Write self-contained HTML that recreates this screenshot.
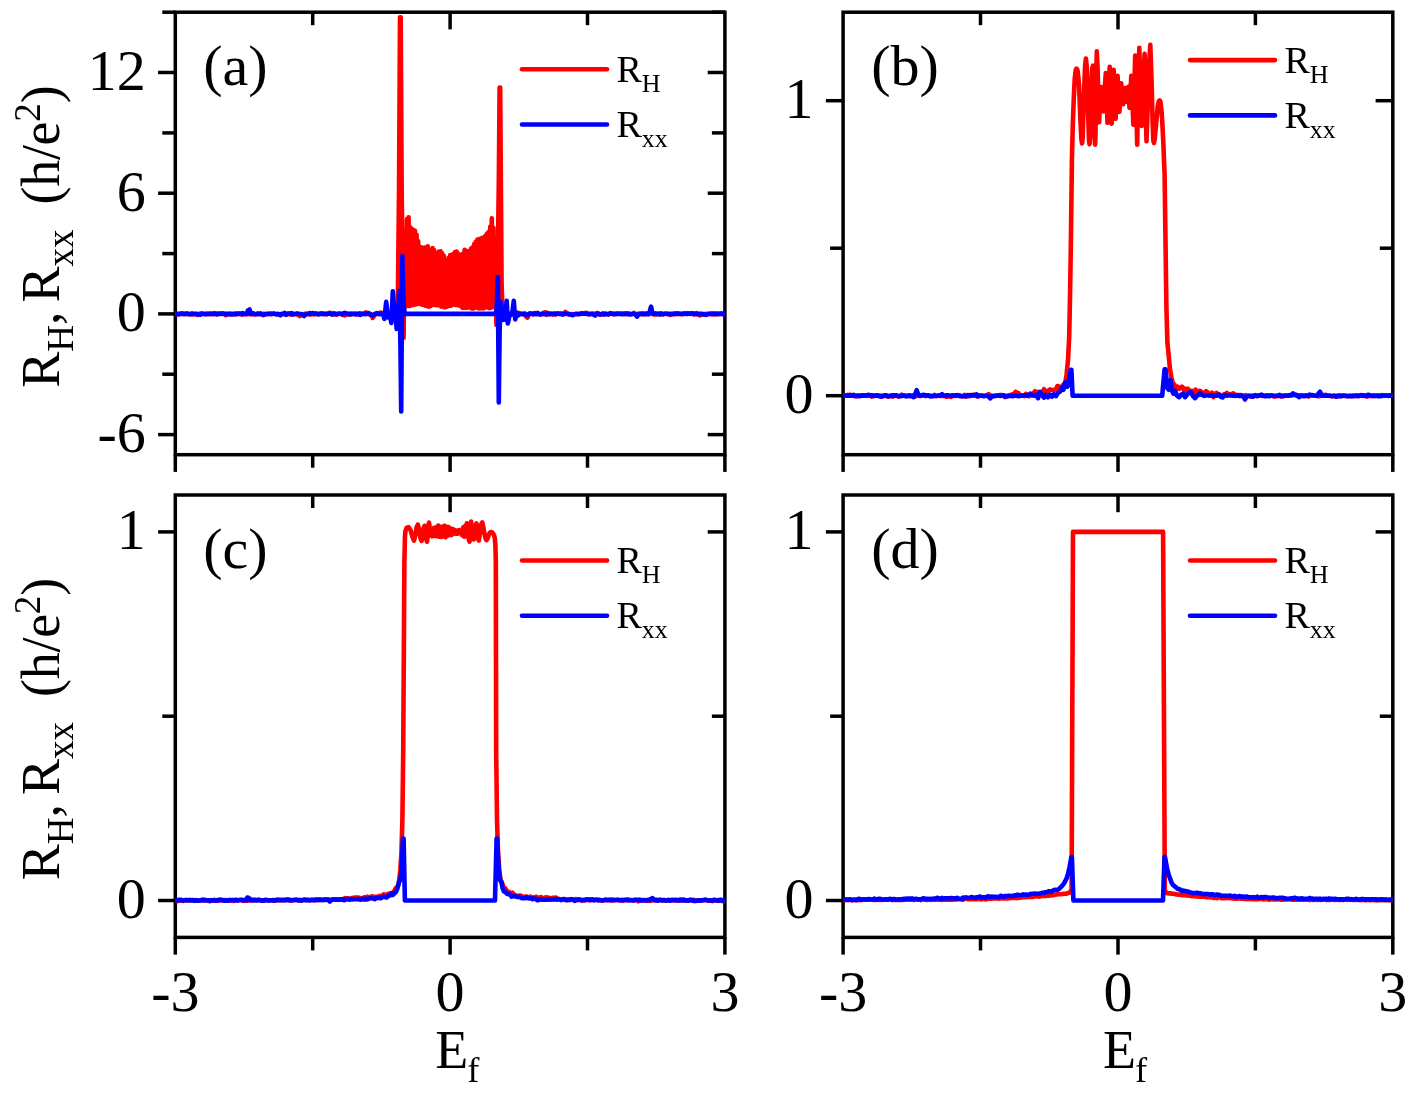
<!DOCTYPE html>
<html lang="en">
<head>
<meta charset="utf-8">
<title>Hall and longitudinal resistance versus Fermi energy</title>
<style>
html,body{margin:0;padding:0;background:#fff;}
body{width:1425px;height:1094px;overflow:hidden;}
svg{display:block;}
svg text{font-family:"Liberation Serif","Times New Roman",Times,serif;fill:#000;}
</style>
</head>
<body>
<svg width="1425" height="1094" viewBox="0 0 1425 1094">
<rect width="1425" height="1094" fill="#fff"/>
<defs><clipPath id="cpa"><rect x="175.3" y="12.2" width="549.6" height="442.5"/></clipPath><clipPath id="cpb"><rect x="843.1" y="12.2" width="549.7" height="442.5"/></clipPath><clipPath id="cpc"><rect x="175.3" y="495" width="549.6" height="442.4"/></clipPath><clipPath id="cpd"><rect x="843.1" y="495" width="549.7" height="442.4"/></clipPath></defs>
<rect x="175.3" y="12.2" width="549.6" height="442.5" fill="none" stroke="#000" stroke-width="3.5"/>
<path d="M175.3,454.7L175.3,471.9" stroke="#000" stroke-width="3.5" fill="none"/>
<path d="M450.1,454.7L450.1,471.9" stroke="#000" stroke-width="3.5" fill="none"/>
<path d="M450.1,12.2L450.1,29.4" stroke="#000" stroke-width="3.5" fill="none"/>
<path d="M724.9,454.7L724.9,471.9" stroke="#000" stroke-width="3.5" fill="none"/>
<path d="M312.7,454.7L312.7,467.7" stroke="#000" stroke-width="3.5" fill="none"/>
<path d="M312.7,12.2L312.7,25.2" stroke="#000" stroke-width="3.5" fill="none"/>
<path d="M587.5,454.7L587.5,467.7" stroke="#000" stroke-width="3.5" fill="none"/>
<path d="M587.5,12.2L587.5,25.2" stroke="#000" stroke-width="3.5" fill="none"/>
<path d="M158.1,72.5L175.3,72.5" stroke="#000" stroke-width="3.5" fill="none"/>
<path d="M707.7,72.5L724.9,72.5" stroke="#000" stroke-width="3.5" fill="none"/>
<path d="M158.1,193.2L175.3,193.2" stroke="#000" stroke-width="3.5" fill="none"/>
<path d="M707.7,193.2L724.9,193.2" stroke="#000" stroke-width="3.5" fill="none"/>
<path d="M158.1,313.9L175.3,313.9" stroke="#000" stroke-width="3.5" fill="none"/>
<path d="M707.7,313.9L724.9,313.9" stroke="#000" stroke-width="3.5" fill="none"/>
<path d="M158.1,434.6L175.3,434.6" stroke="#000" stroke-width="3.5" fill="none"/>
<path d="M707.7,434.6L724.9,434.6" stroke="#000" stroke-width="3.5" fill="none"/>
<path d="M162.3,12.2L175.3,12.2" stroke="#000" stroke-width="3.5" fill="none"/>
<path d="M711.9,12.2L724.9,12.2" stroke="#000" stroke-width="3.5" fill="none"/>
<path d="M162.3,132.9L175.3,132.9" stroke="#000" stroke-width="3.5" fill="none"/>
<path d="M711.9,132.9L724.9,132.9" stroke="#000" stroke-width="3.5" fill="none"/>
<path d="M162.3,253.6L175.3,253.6" stroke="#000" stroke-width="3.5" fill="none"/>
<path d="M711.9,253.6L724.9,253.6" stroke="#000" stroke-width="3.5" fill="none"/>
<path d="M162.3,374.2L175.3,374.2" stroke="#000" stroke-width="3.5" fill="none"/>
<path d="M711.9,374.2L724.9,374.2" stroke="#000" stroke-width="3.5" fill="none"/>
<text x="145.8" y="89.8" text-anchor="end" font-size="58">12</text>
<text x="145.8" y="210.5" text-anchor="end" font-size="58">6</text>
<text x="145.8" y="331.2" text-anchor="end" font-size="58">0</text>
<text x="145.8" y="451.9" text-anchor="end" font-size="58">-6</text>
<rect x="843.1" y="12.2" width="549.7" height="442.5" fill="none" stroke="#000" stroke-width="3.5"/>
<path d="M843.1,454.7L843.1,471.9" stroke="#000" stroke-width="3.5" fill="none"/>
<path d="M1118,454.7L1118,471.9" stroke="#000" stroke-width="3.5" fill="none"/>
<path d="M1118,12.2L1118,29.4" stroke="#000" stroke-width="3.5" fill="none"/>
<path d="M1392.8,454.7L1392.8,471.9" stroke="#000" stroke-width="3.5" fill="none"/>
<path d="M980.5,454.7L980.5,467.7" stroke="#000" stroke-width="3.5" fill="none"/>
<path d="M980.5,12.2L980.5,25.2" stroke="#000" stroke-width="3.5" fill="none"/>
<path d="M1255.4,454.7L1255.4,467.7" stroke="#000" stroke-width="3.5" fill="none"/>
<path d="M1255.4,12.2L1255.4,25.2" stroke="#000" stroke-width="3.5" fill="none"/>
<path d="M825.9,100.7L843.1,100.7" stroke="#000" stroke-width="3.5" fill="none"/>
<path d="M1375.6,100.7L1392.8,100.7" stroke="#000" stroke-width="3.5" fill="none"/>
<path d="M825.9,395.7L843.1,395.7" stroke="#000" stroke-width="3.5" fill="none"/>
<path d="M1375.6,395.7L1392.8,395.7" stroke="#000" stroke-width="3.5" fill="none"/>
<path d="M830.1,248.2L843.1,248.2" stroke="#000" stroke-width="3.5" fill="none"/>
<path d="M1379.8,248.2L1392.8,248.2" stroke="#000" stroke-width="3.5" fill="none"/>
<text x="813.6" y="118" text-anchor="end" font-size="58">1</text>
<text x="813.6" y="413" text-anchor="end" font-size="58">0</text>
<rect x="175.3" y="495" width="549.6" height="442.4" fill="none" stroke="#000" stroke-width="3.5"/>
<path d="M175.3,937.4L175.3,954.6" stroke="#000" stroke-width="3.5" fill="none"/>
<path d="M450.1,937.4L450.1,954.6" stroke="#000" stroke-width="3.5" fill="none"/>
<path d="M450.1,495L450.1,512.2" stroke="#000" stroke-width="3.5" fill="none"/>
<path d="M724.9,937.4L724.9,954.6" stroke="#000" stroke-width="3.5" fill="none"/>
<path d="M312.7,937.4L312.7,950.4" stroke="#000" stroke-width="3.5" fill="none"/>
<path d="M312.7,495L312.7,508" stroke="#000" stroke-width="3.5" fill="none"/>
<path d="M587.5,937.4L587.5,950.4" stroke="#000" stroke-width="3.5" fill="none"/>
<path d="M587.5,495L587.5,508" stroke="#000" stroke-width="3.5" fill="none"/>
<path d="M158.1,531.9L175.3,531.9" stroke="#000" stroke-width="3.5" fill="none"/>
<path d="M707.7,531.9L724.9,531.9" stroke="#000" stroke-width="3.5" fill="none"/>
<path d="M158.1,900.5L175.3,900.5" stroke="#000" stroke-width="3.5" fill="none"/>
<path d="M707.7,900.5L724.9,900.5" stroke="#000" stroke-width="3.5" fill="none"/>
<path d="M162.3,716.2L175.3,716.2" stroke="#000" stroke-width="3.5" fill="none"/>
<path d="M711.9,716.2L724.9,716.2" stroke="#000" stroke-width="3.5" fill="none"/>
<text x="145.8" y="549.2" text-anchor="end" font-size="58">1</text>
<text x="145.8" y="917.8" text-anchor="end" font-size="58">0</text>
<rect x="843.1" y="495" width="549.7" height="442.4" fill="none" stroke="#000" stroke-width="3.5"/>
<path d="M843.1,937.4L843.1,954.6" stroke="#000" stroke-width="3.5" fill="none"/>
<path d="M1118,937.4L1118,954.6" stroke="#000" stroke-width="3.5" fill="none"/>
<path d="M1118,495L1118,512.2" stroke="#000" stroke-width="3.5" fill="none"/>
<path d="M1392.8,937.4L1392.8,954.6" stroke="#000" stroke-width="3.5" fill="none"/>
<path d="M980.5,937.4L980.5,950.4" stroke="#000" stroke-width="3.5" fill="none"/>
<path d="M980.5,495L980.5,508" stroke="#000" stroke-width="3.5" fill="none"/>
<path d="M1255.4,937.4L1255.4,950.4" stroke="#000" stroke-width="3.5" fill="none"/>
<path d="M1255.4,495L1255.4,508" stroke="#000" stroke-width="3.5" fill="none"/>
<path d="M825.9,531.9L843.1,531.9" stroke="#000" stroke-width="3.5" fill="none"/>
<path d="M1375.6,531.9L1392.8,531.9" stroke="#000" stroke-width="3.5" fill="none"/>
<path d="M825.9,900.5L843.1,900.5" stroke="#000" stroke-width="3.5" fill="none"/>
<path d="M1375.6,900.5L1392.8,900.5" stroke="#000" stroke-width="3.5" fill="none"/>
<path d="M830.1,716.2L843.1,716.2" stroke="#000" stroke-width="3.5" fill="none"/>
<path d="M1379.8,716.2L1392.8,716.2" stroke="#000" stroke-width="3.5" fill="none"/>
<text x="813.6" y="549.2" text-anchor="end" font-size="58">1</text>
<text x="813.6" y="917.8" text-anchor="end" font-size="58">0</text>
<path d="M175.3,313.4 176.7,314.1 178.1,314.3 179.5,313.7 180.9,313.4 182.3,313.9 183.7,314.1 185.1,314.3 186.5,313.4 187.9,313.4 189.3,314.2 190.7,314.1 192.1,314.5 193.5,314.3 194.9,313.9 196.3,313.8 197.7,314.9 199.1,313.8 200.5,313.6 201.9,313.4 203.3,313.9 204.7,314 206.1,313.8 207.5,313.9 208.9,314 210.3,314.2 211.7,314.3 213.1,314 214.5,313.2 215.9,314.2 217.3,313.3 218.7,313.8 220.1,313.3 221.5,313.9 222.9,313.6 224.3,314 225.7,315.2 227.1,313.9 228.5,314.2 229.9,313.4 231.3,313.8 232.7,314.2 234.1,313.9 235.5,314.1 236.9,313.9 238.3,313.5 239.7,314.1 241.1,313.6 242.5,314.7 243.9,313.7 245.3,314.2 246.7,313.9 248.1,314.3 249.5,313.7 250.9,314.3 252.3,313.9 253.7,314.4 255.1,314.2 256.5,314 257.9,313.6 259.3,314.2 260.7,314.1 262.1,314.6 263.5,313.8 264.9,314.1 266.3,314.1 267.7,314 269.1,314 270.5,314 271.9,313.7 273.3,313.5 274.7,313.7 276.1,314.1 277.5,314.5 278.9,314.3 280.3,314.3 281.7,314.2 283.1,314.2 284.5,314 285.9,314.2 287.3,314.6 288.7,313.8 290.1,313.6 291.5,314.7 292.9,314 294.3,314.3 295.7,314.3 297.1,313.5 298.5,315.3 299.9,316.1 301.3,314.5 302.7,314.2 304.1,314 305.5,313.6 306.9,313.9 308.3,314.1 309.7,314.4 311.1,314.2 312.5,313.9 313.9,314.4 315.3,313.6 316.7,314.2 318.1,314.3 319.5,313.8 320.9,313.2 322.3,313.5 323.7,314 325.1,314.1 326.5,314.5 327.9,313.5 329.3,312.9 330.7,313.1 332.1,313.8 333.5,313 334.9,314.2 336.3,314.8 337.7,314.3 339.1,313.5 340.5,313.7 341.9,314 343.3,315.1 344.7,315.4 346.1,314.6 347.5,314.5 348.9,313.9 350.3,314.6 351.7,313.6 353.1,313.7 354.5,314.2 355.9,314.5 357.3,314.2 358.7,314 360.1,313.2 361.5,313.6 362.9,313.7 364.3,313.4 365.7,312.4 367.1,312.9 368.5,314.2 369.9,313.9 371.3,314.4 372.7,317.8 374.1,316.1 375.5,314.2 376.9,313.7 378.3,313.8 379.7,312.7 381.1,312.6 382.5,314 383.9,313.8 385.3,313.7 386.7,313.7 388.1,315.8 389.5,314 390.9,314.8 392.3,312.4 393.7,312 395.1,312.9 396.5,314.5 396.5,313.9 397.8,303.8 399,193.2 400,17.2 400.7,17.2 401.7,193.2 403,293.8 403.6,338 404.4,273.7 405.4,231.3 406.2,306.2 407,219 407.8,305.6 408.6,217.3 409.4,306.1 410.2,227.2 411,305.3 411.8,228.9 412.6,305.3 413.4,229.8 414.2,304.6 415,230.8 415.8,304.5 416.6,234.9 417.4,303.8 418.2,241.4 419,303.6 419.8,247.1 420.6,303.9 421.4,247.3 422.2,304.8 423,248 423.8,305 424.6,247.6 425.4,305.6 426.2,248.6 427,305.8 427.8,246.3 428.6,306.8 429.4,250.7 430.2,306.1 431,250.6 431.8,305.3 432.6,248 433.4,305 434.2,250.3 435,304.8 435.8,254.7 436.6,305.3 437.4,253.5 438.2,305.3 439,251.6 439.8,305.1 440.6,251.4 441.4,306.8 442.2,253.3 443,306.2 443.8,255.9 444.6,307.4 445.4,262.1 446.2,306.9 447,260.8 447.8,306.1 448.6,257.7 449.4,305.9 450.2,255.1 451,305.7 451.8,255.2 452.6,304.4 453.4,253.9 454.2,304.7 455,252 455.8,304.9 456.6,251.5 457.4,305.3 458.2,253.8 459,305.4 459.8,254.5 460.6,306 461.4,255.2 462.2,307.8 463,253.7 463.8,307.7 464.6,249.8 465.4,307.6 466.2,250.9 467,307.6 467.8,251.2 468.6,307.2 469.4,252 470.2,307.8 471,248.5 471.8,308.5 472.6,247.2 473.4,308.4 474.2,244 475,307.6 475.8,241.7 476.6,307.3 477.4,239.6 478.2,308.3 479,239.1 479.8,308.5 480.6,238.7 481.4,308.1 482.2,237.8 483,308.4 483.8,238.7 484.6,307.8 485.4,235.9 486.2,307.5 487,233.5 487.8,307.1 488.6,232.1 489.4,308.2 490.2,226.7 491,307.8 491.8,218.4 492.6,306.7 493.4,227.8 494.2,306.5 495,249.4 496.4,325 497.4,293.8 498.9,173.1 499.6,87.6 500.2,87.6 500.8,173.1 501.6,283.7 502.4,309.9 503.4,315.9 504.5,311.9 505.5,313.9 506.5,314 507.9,313.6 509.3,314.4 510.7,313.4 512.1,313.8 513.5,313.9 514.9,313.5 516.3,314.1 517.7,312.5 519.1,313.3 520.5,314 521.9,313.9 523.3,313.7 524.7,313.4 526.1,316.5 527.5,317.6 528.9,313.9 530.3,313.2 531.7,313.6 533.1,314.2 534.5,313 535.9,313.3 537.3,314 538.7,314.1 540.1,314.5 541.5,314.1 542.9,313.4 544.3,312.5 545.7,312.3 547.1,314.8 548.5,313.2 549.9,314.4 551.3,313.8 552.7,314 554.1,313.6 555.5,314.6 556.9,313.5 558.3,313.8 559.7,314 561.1,313.4 562.5,314.1 563.9,313.6 565.3,312 566.7,313.2 568.1,313.7 569.5,314.6 570.9,314.2 572.3,314.1 573.7,314.2 575.1,314 576.5,313.7 577.9,314.2 579.3,314.3 580.7,313.8 582.1,313.1 583.5,313.5 584.9,313 586.3,312.9 587.7,314 589.1,314.1 590.5,314.1 591.9,313.6 593.3,313.8 594.7,313.8 596.1,313.3 597.5,313.1 598.9,314.5 600.3,314.9 601.7,314 603.1,313.3 604.5,314.4 605.9,314.1 607.3,313.7 608.7,314.5 610.1,313.1 611.5,313.4 612.9,313.8 614.3,314.1 615.7,314.4 617.1,313.4 618.5,313.5 619.9,313.5 621.3,313.6 622.7,313.5 624.1,313.9 625.5,314.1 626.9,313.4 628.3,313.3 629.7,313.9 631.1,314.4 632.5,314.1 633.9,313 635.3,314.4 636.7,314.2 638.1,313.8 639.5,313.7 640.9,313.9 642.3,313.2 643.7,314.2 645.1,314.3 646.5,313.6 647.9,313.8 649.3,314.1 650.7,313.2 652.1,313.3 653.5,314.4 654.9,314.4 656.3,314.2 657.7,313.9 659.1,314 660.5,314.5 661.9,313.7 663.3,314.2 664.7,313.8 666.1,313.8 667.5,313.9 668.9,314.4 670.3,314.9 671.7,314.1 673.1,314.1 674.5,314.4 675.9,313.5 677.3,314.1 678.7,313.5 680.1,314.2 681.5,314 682.9,314.1 684.3,313.5 685.7,313.5 687.1,313.1 688.5,313.8 689.9,313.3 691.3,313.4 692.7,314 694.1,314.6 695.5,314.2 696.9,313.1 698.3,314 699.7,315.4 701.1,314.8 702.5,313.8 703.9,314.7 705.3,313.9 706.7,314.1 708.1,314.1 709.5,313.9 710.9,313.6 712.3,314.5 713.7,314.3 715.1,313.3 716.5,314.2 717.9,314.2 719.3,314.2 720.7,313.9 722.1,313.8 723.5,314.1 724.9,314.5 724.9,313.9" fill="none" stroke="#ff0000" stroke-width="4.6" stroke-linejoin="round" stroke-linecap="round" clip-path="url(#cpa)"/>
<path d="M175.3,314.6 176.7,313.5 178.1,314.2 179.5,314.1 180.9,313.9 182.3,313.6 183.7,313.8 185.1,313.7 186.5,314 187.9,314 189.3,314.3 190.7,314 192.1,313.5 193.5,313.9 194.9,314 196.3,314.1 197.7,314.1 199.1,314.5 200.5,314.6 201.9,313.9 203.3,314 204.7,314 206.1,314.2 207.5,313.8 208.9,313.9 210.3,313.6 211.7,313.6 213.1,314 214.5,313.5 215.9,314.1 217.3,314.4 218.7,313.9 220.1,314 221.5,313.7 222.9,313.4 224.3,314 225.7,313.7 227.1,314 228.5,314.1 229.9,314.2 231.3,314.5 232.7,314 234.1,314.1 235.5,313.5 236.9,314.2 238.3,313.6 239.7,313.6 241.1,314.1 242.5,313.1 243.9,313.9 245.3,314 246.7,313.7 248.1,310.2 249.5,309.5 250.9,314 252.3,313.4 253.7,313.4 255.1,314.3 256.5,314.2 257.9,313.6 259.3,314 260.7,313.4 262.1,314.2 263.5,315.1 264.9,314.2 266.3,314 267.7,313.9 269.1,313.9 270.5,313.6 271.9,314.2 273.3,313.7 274.7,313.8 276.1,314.3 277.5,313.8 278.9,314.2 280.3,315.3 281.7,313.7 283.1,313.7 284.5,312.9 285.9,314.7 287.3,313.6 288.7,313.5 290.1,314 291.5,313.1 292.9,314.3 294.3,314 295.7,313.9 297.1,313.7 298.5,313.8 299.9,314 301.3,314 302.7,314.9 304.1,316 305.5,314.5 306.9,314.2 308.3,313.7 309.7,313.1 311.1,313.9 312.5,313 313.9,313.5 315.3,313.6 316.7,313.5 318.1,314.3 319.5,314.1 320.9,313.9 322.3,313.8 323.7,314.1 325.1,313.8 326.5,313.7 327.9,313.9 329.3,313.5 330.7,313.9 332.1,314.6 333.5,314.2 334.9,313.6 336.3,314.1 337.7,313.7 339.1,313.7 340.5,313.8 341.9,314.3 343.3,313.5 344.7,312.8 346.1,313.3 347.5,313.7 348.9,314.1 350.3,313.9 351.7,314.1 353.1,314 354.5,313.9 355.9,313.6 357.3,314.3 358.7,313.6 360.1,314.8 361.5,314.2 362.9,314 364.3,313.9 365.7,314.2 367.1,313.7 368.5,313.1 369.9,314 371.3,315.3 372.7,315.6 374.1,314.3 375.5,313.7 376.9,313.1 378.3,314.1 379.7,314.1 381.1,313.5 382.5,314.2 383,313.9 384.4,318.9 386.2,301.9 388,317.4 389.6,314.9 391.4,322.9 392.8,291.4 394.4,311.9 395.4,307.9 396.6,328.9 398,312.9 399.3,290.9 400.4,343.9 401.2,411.5 402.3,256 403.6,303.9 404.6,313.9 496,313.9 496.8,305.9 497.8,277.1 498.8,402.4 499.6,333.9 500.4,301.9 501.6,306.9 502.6,309.9 503.6,319.9 505,315.9 506.7,300.9 507.8,323.4 509.4,315.9 511,314.9 512.4,311.9 513.8,300.9 515.2,319.4 516.6,312.9 518,315.4 519.5,314.2 520.9,313.7 522.3,314 523.7,314.3 525.1,314.1 526.5,315.3 527.9,315 529.3,313.7 530.7,313.6 532.1,313.9 533.5,314.3 534.9,313.4 536.3,314.2 537.7,312.9 539.1,313.7 540.5,314.4 541.9,313.8 543.3,313.9 544.7,314.1 546.1,314.3 547.5,313.6 548.9,313.7 550.3,313.7 551.7,313.8 553.1,314.4 554.5,313.5 555.9,313.7 557.3,313.6 558.7,313.5 560.1,314 561.5,314.1 562.9,314.6 564.3,313.8 565.7,314 567.1,313.8 568.5,314.1 569.9,314 571.3,314.7 572.7,315.3 574.1,314.2 575.5,314.1 576.9,314 578.3,314 579.7,313.7 581.1,313.6 582.5,313.7 583.9,313.7 585.3,313.7 586.7,313.9 588.1,313.6 589.5,314.3 590.9,314 592.3,313.8 593.7,314.8 595.1,315.6 596.5,313.9 597.9,313.5 599.3,314 600.7,314.2 602.1,313.9 603.5,314.5 604.9,313.6 606.3,314.2 607.7,314.2 609.1,313.9 610.5,313.4 611.9,313.8 613.3,314.2 614.7,313.8 616.1,313.8 617.5,314 618.9,314 620.3,313.8 621.7,314.2 623.1,314.1 624.5,313.5 625.9,313.9 627.3,313.7 628.7,314.4 630.1,314.1 631.5,314 632.9,313.8 634.3,313.8 635.7,314.6 637.1,316.6 638.5,314.4 639.9,313.7 641.3,314.1 642.7,314.1 644.1,313.9 645.5,313.6 646.9,314.3 648.3,314.2 649.7,311.5 651.1,306.6 652.5,313.6 653.9,313.7 655.3,313.4 656.7,314.1 658.1,313.8 659.5,314.2 660.9,313.3 662.3,314.3 663.7,314.1 665.1,313.8 666.5,313.7 667.9,314.1 669.3,313.7 670.7,314.1 672.1,313.8 673.5,314 674.9,313.4 676.3,313.7 677.7,313.4 679.1,313.8 680.5,313.7 681.9,313.8 683.3,313.9 684.7,313.3 686.1,313.9 687.5,314 688.9,313.5 690.3,313.9 691.7,313.2 693.1,313.6 694.5,313.6 695.9,313.5 697.3,314.3 698.7,314.1 700.1,313.9 701.5,313.8 702.9,314.3 704.3,314.3 705.7,315 707.1,314.4 708.5,313.8 709.9,313.8 711.3,313.9 712.7,313.5 714.1,313.9 715.5,314.1 716.9,313.9 718.3,313.5 719.7,313.9 721.1,313.6 722.5,313.5 723.9,314.6 724.9,313.9" fill="none" stroke="#0000ff" stroke-width="4.6" stroke-linejoin="round" stroke-linecap="round" clip-path="url(#cpa)"/>
<path d="M843.1,395.2 844.6,395.1 846.1,395.8 847.6,394.8 849.1,395.4 850.6,394.7 852.1,395.8 853.6,395.8 855.1,396.3 856.6,395.7 858.1,395.9 859.6,395.6 861.1,395.4 862.6,395.7 864.1,395.2 865.6,395.4 867.1,395.9 868.6,395.8 870.1,395.6 871.6,396.6 873.1,396 874.6,395.5 876.1,395.7 877.6,395.5 879.1,395.5 880.6,395.5 882.1,396.5 883.6,395.9 885.1,395.8 886.6,396 888.1,396.6 889.6,395.9 891.1,395.5 892.6,396.7 894.1,395.4 895.6,395.4 897.1,395.9 898.6,396.7 900.1,395.6 901.6,394.7 903.1,395.7 904.6,395.5 906.1,395.5 907.6,395.8 909.1,395.8 910.6,395.9 912.1,395.6 913.6,396.2 915.1,396.5 916.6,395.9 918.1,395.6 919.6,396 921.1,396 922.6,395.3 924.1,395.4 925.6,396.1 927.1,395.8 928.6,395.6 930.1,395.8 931.6,395.7 933.1,395.7 934.6,394.9 936.1,396.2 937.6,395.9 939.1,395.4 940.6,396 942.1,395.9 943.6,395.8 945.1,396.2 946.6,396.8 948.1,396.3 949.6,396.5 951.1,396.9 952.6,395.6 954.1,395.5 955.6,396 957.1,395.1 958.6,395.4 960.1,396.2 961.6,396.3 963.1,396.1 964.6,395 966.1,396.5 967.6,396.2 969.1,396.2 970.6,396 972.1,395.1 973.6,394.9 975.1,395 976.6,396.3 978.1,395.5 979.6,395.5 981.1,395.5 982.6,395.9 984.1,396 985.6,395.9 987.1,395.2 988.6,394.2 990.1,395.3 991.6,395.7 993.1,396.2 994.6,395.8 996.1,395.5 997.6,395.8 999.1,395.1 1000.6,395.1 1002.1,395.1 1003.6,395.6 1005,395.7 1005,397.3 1006.5,395.7 1008,396.2 1009.5,395.1 1011,395.1 1012.5,394.2 1014,394.4 1015.5,391.8 1017,393.2 1018.5,393.1 1020,395.5 1021.5,395.3 1023,395.7 1024.5,396.1 1026,393.8 1027.5,395.3 1029,396.2 1030.5,393.7 1032,394.9 1033.5,393.2 1035,391.3 1036.5,393.2 1038,391.8 1039.5,392.7 1041,391.7 1042.5,392.4 1044,389.2 1045.5,393.9 1047,392.7 1048.5,390.3 1050,389.3 1051.5,390 1053,390.4 1054.5,389.7 1056,389.3 1057.5,386 1059,386.5 1060.5,389 1062,387.1 1063.5,384.5 1065,384.7 1066.5,375.1 1068,360.3 1069.2,336.7 1070,298.3 1070.8,248.2 1071.9,160.4 1072.8,124.7 1073.7,100.4 1074.7,78.7 1075.8,69.8 1076.6,68.6 1077.6,70.4 1079,84.7 1080.4,119.8 1081.4,139.2 1082,143.5 1082.6,139.2 1083.8,100.4 1085,66.8 1085.9,58.5 1086.9,68 1088.2,114.9 1089,140.5 1089.5,144.1 1089.9,139.2 1091.1,90.7 1092.3,68 1093,65.7 1093.7,76.3 1094.6,136.8 1095.1,144.7 1095.5,134.4 1096.2,76.3 1096.8,51.4 1097.6,68 1098.7,117.4 1099.2,122.2 1099.9,102.8 1101,87 1102.2,105.2 1103.4,111.3 1104.6,90.7 1105.8,73 1106.7,100.4 1107.5,122.8 1108.6,90.7 1109.7,66.8 1110.7,100.4 1111.7,123.7 1112.8,93.1 1113.7,69.8 1114.7,100.4 1115.6,118.8 1116.7,93.1 1117.6,75.8 1118.6,97.9 1119.4,111.9 1120.4,95.5 1121.2,83.2 1122.3,95.5 1123.2,104.3 1124.2,95.5 1125.1,88 1125.8,95.5 1126.5,101.8 1127.5,93.1 1128.3,86.8 1128.9,99.2 1129.5,107.9 1130.5,90.7 1131.3,75.8 1132.5,105.2 1133.4,124.7 1134.4,85.9 1135.2,55.5 1136.3,106.4 1137.2,144.7 1138.2,90.7 1139.3,47.8 1140.6,95.5 1141.8,125.9 1143.2,84.7 1144.6,53.8 1145.6,105.2 1146.5,141.1 1147.5,112.5 1148.9,66.8 1150.3,44.9 1151.5,78.7 1152.7,124.7 1153.4,140.5 1153.9,142.9 1154.7,139.2 1156.3,122.2 1157.7,106.4 1158.9,101 1159.6,100.4 1160.4,101.6 1161.6,111.3 1162.4,124.7 1163.4,144.1 1164,160.4 1164.6,174.4 1165.4,233.4 1166.4,307.2 1167.4,342.6 1168.6,354.4 1170,369.1 1171.5,378 1173,383.6 1174.5,384.7 1176,387.9 1177.5,386.7 1179,388.9 1180.5,388.2 1182,386.6 1183.5,388.1 1185,392.1 1186.5,388.8 1188,388.8 1189.5,392 1191,390.9 1192.5,391.1 1194,393.2 1195.5,389.6 1197,392.5 1198.5,391 1200,390.8 1201.5,391.8 1203,394.4 1204.5,393 1206,391.2 1207.5,392.2 1209,395.6 1210.5,395.1 1212,392.7 1213.5,397.1 1215,393.8 1216.5,392.9 1218,394.3 1219.5,395.7 1221,396.6 1222.5,395.9 1224,394.2 1225.5,394 1227,393 1228.5,394.7 1230,394.1 1231.5,395.1 1233,393.3 1234.5,394.2 1235,395.3 1236.5,395.1 1238,395 1239.5,395.1 1241,395 1242.5,395.7 1244,395.8 1245.5,395.1 1247,395.8 1248.5,395.8 1250,396.4 1251.5,395.8 1253,395.6 1254.5,395.4 1256,395.7 1257.5,395.9 1259,395.8 1260.5,395.6 1262,395.9 1263.5,395.8 1265,395.8 1266.5,395.3 1268,395.7 1269.5,395.3 1271,395.2 1272.5,395.6 1274,396.6 1275.5,396.4 1277,395.9 1278.5,395.7 1280,396.1 1281.5,396.4 1283,396.4 1284.5,395.8 1286,395.8 1287.5,395.6 1289,395.5 1290.5,395.3 1292,395.5 1293.5,394.7 1295,394.9 1296.5,395.6 1298,395.3 1299.5,395.8 1301,395.2 1302.5,395.4 1304,395.8 1305.5,395.3 1307,395.3 1308.5,396.6 1310,395.7 1311.5,395.4 1313,395.4 1314.5,395.6 1316,395.7 1317.5,396.1 1319,396.2 1320.5,395.7 1322,395.5 1323.5,395 1325,394.9 1326.5,395.1 1328,395.8 1329.5,395.8 1331,396.1 1332.5,396.2 1334,395.8 1335.5,396.6 1337,395.8 1338.5,395.4 1340,395.4 1341.5,396.1 1343,395.8 1344.5,395.4 1346,395.8 1347.5,396.2 1349,395.8 1350.5,395.6 1352,396.1 1353.5,396.3 1355,396.3 1356.5,395.5 1358,395.8 1359.5,395.9 1361,395 1362.5,396 1364,395.8 1365.5,395.6 1367,396.6 1368.5,396 1370,395.5 1371.5,395.6 1373,395.9 1374.5,396.1 1376,395.8 1377.5,395.4 1379,395.3 1380.5,395.2 1382,395.1 1383.5,395.5 1385,395.4 1386.5,395.6 1388,395.3 1389.5,395.2 1391,395.5 1392.5,395.5 1392.8,395.7" fill="none" stroke="#ff0000" stroke-width="4.6" stroke-linejoin="round" stroke-linecap="round" clip-path="url(#cpb)"/>
<path d="M843.1,396.2 844.6,395.5 846.1,395.7 847.6,395.7 849.1,395.2 850.6,395.8 852.1,395.8 853.6,394.9 855.1,395.7 856.6,396.1 858.1,395.5 859.6,396.3 861.1,395.9 862.6,395.3 864.1,395.8 865.6,395.6 867.1,395.1 868.6,394.7 870.1,395.5 871.6,395.3 873.1,395.8 874.6,395.9 876.1,395.6 877.6,395.4 879.1,396.3 880.6,396.6 882.1,396.3 883.6,395.7 885.1,395.3 886.6,395.4 888.1,396.3 889.6,396.1 891.1,395.7 892.6,395.2 894.1,395.6 895.6,395.3 897.1,395.6 898.6,396 900.1,396.2 901.6,395.9 903.1,395.6 904.6,395.8 906.1,396.4 907.6,396.1 909.1,395.3 910.6,396.2 912.1,395.9 913.6,397.1 915.1,394.2 916.6,390.2 918.1,393.8 919.6,395.8 921.1,395.5 922.6,395.1 924.1,394.8 925.6,395.4 927.1,395.4 928.6,395.4 930.1,396.4 931.6,396.2 933.1,396.3 934.6,395.7 936.1,395.8 937.6,395.7 939.1,395.6 940.6,395.4 942.1,394.1 943.6,395.5 945.1,395.8 946.6,395.2 948.1,395.3 949.6,395.7 951.1,395.6 952.6,395.4 954.1,395.7 955.6,395.3 957.1,395.3 958.6,395.9 960.1,395.6 961.6,396.2 963.1,396.1 964.6,396.1 966.1,396.3 967.6,395 969.1,395.5 970.6,395.1 972.1,395.3 973.6,395.6 975.1,395 976.6,394.4 978.1,396.4 979.6,395.7 981.1,395.7 982.6,395.7 984.1,396.1 985.6,395.8 987.1,395.5 988.6,396.6 990.1,398.4 991.6,396.7 993.1,396.1 994.6,396 996.1,395.9 997.6,395.5 999.1,395.5 1000.6,396 1002.1,395.5 1003.6,395.3 1005.1,396.2 1006.6,396.5 1008.1,396 1009.6,396 1011.1,395.9 1012.6,396.3 1014.1,395.7 1015.6,395.7 1017.1,395.9 1018.6,396.3 1020.1,395.8 1021.6,395.8 1023.1,395.5 1024.6,395.4 1026.1,395.4 1027.6,395.6 1029.1,394.6 1030.6,393.8 1032.1,395.4 1033.6,395.5 1035,395.7 1036,394.7 1038,398.2 1040,392.2 1042,394.7 1044,397.7 1046,394.7 1048,397.2 1050,394.7 1052,396.7 1054,394.2 1056,396.2 1058,392.7 1060,391.7 1062,387.7 1063.5,389.7 1065,382.7 1066.2,381.7 1067.2,386.7 1068.5,384.7 1069.6,377.7 1070.6,369.7 1071.4,369.7 1072.6,395.7 1080,395.7 1162.2,395.7 1164.6,369.2 1165.6,369.2 1167.2,387.7 1168.6,389.7 1170.6,380.2 1172,390.7 1173.5,393.7 1175,390.7 1177,395.7 1179,397.2 1181,394.7 1183,393.7 1185,397.2 1187,394.7 1189,392.7 1191,392.2 1193,396.2 1195,398.2 1197,395.8 1198.5,395 1200,393.3 1201.5,394.7 1203,395.3 1204.5,395.9 1206,395.4 1207.5,395.2 1209,395.3 1210.5,395.5 1212,395.3 1213.5,395.7 1215,395.7 1216.5,395.7 1218,394.8 1219.5,394.6 1221,396.8 1222.5,397.5 1224,395.7 1225.5,394.9 1227,395.6 1228.5,395.4 1230,395.3 1231.5,395.4 1233,395.7 1234.5,395.8 1236,395.9 1237.5,395.5 1239,395.9 1240.5,395.9 1242,395.6 1243.5,396.5 1245,399.5 1246.5,396.8 1248,396 1249.5,395.8 1251,396.2 1252.5,396.7 1254,396.2 1255.5,395.2 1257,396.2 1258.5,395.6 1260,395.1 1261.5,394.6 1263,395.5 1264.5,396.1 1266,396.2 1267.5,395.7 1269,396.3 1270.5,395.8 1272,395.5 1273.5,395.7 1275,395.8 1276.5,395.7 1278,395.9 1279.5,394.9 1281,396.1 1282.5,395.6 1284,395.9 1285.5,395.5 1287,395.7 1288.5,395.6 1290,395.1 1291.5,395 1293,393.4 1294.5,394.7 1296,394.8 1297.5,395.7 1299,397.2 1300.5,396.1 1302,395.7 1303.5,396.3 1305,396.1 1306.5,395.7 1308,395.8 1309.5,394.6 1311,395 1312.5,395.1 1314,395.5 1315.5,395.8 1317,395.8 1318.5,393.4 1320,391.7 1321.5,395.3 1323,395.7 1324.5,395.7 1326,395.8 1327.5,395.6 1329,395.8 1330.5,395.7 1332,396.1 1333.5,395.8 1335,395.8 1336.5,396.7 1338,396.3 1339.5,396.1 1341,396.2 1342.5,395.5 1344,395.9 1345.5,396 1347,396 1348.5,396.2 1350,396.1 1351.5,396.3 1353,395.6 1354.5,395.8 1356,395.5 1357.5,396.1 1359,395.9 1360.5,395.3 1362,395.6 1363.5,395.3 1365,396 1366.5,395.6 1368,394.8 1369.5,395.3 1371,396 1372.5,395.9 1374,395.5 1375.5,395.9 1377,396 1378.5,396.3 1380,396.2 1381.5,396 1383,395.5 1384.5,395.7 1386,395.8 1387.5,395.7 1389,395.9 1390.5,395.3 1392,395.8 1392.8,395.7" fill="none" stroke="#0000ff" stroke-width="4.6" stroke-linejoin="round" stroke-linecap="round" clip-path="url(#cpb)"/>
<path d="M175.3,900.4 176.8,901.2 178.3,900.7 179.8,900.7 181.3,900.5 182.8,900.4 184.3,900.5 185.8,900.3 187.3,900 188.8,900 190.3,899.9 191.8,900.4 193.3,900.5 194.8,900.9 196.3,900.5 197.8,900.4 199.3,900.5 200.8,900.3 202.3,899.6 203.8,900.7 205.3,900.1 206.8,900.4 208.3,900.2 209.8,901.3 211.3,900.7 212.8,900.4 214.3,899.9 215.8,900.6 217.3,900 218.8,900.7 220.3,899.7 221.8,900.2 223.3,900.6 224.8,900 226.3,900.3 227.8,900.3 229.3,900.6 230.8,900.1 232.3,900.5 233.8,901 235.3,899.7 236.8,899.9 238.3,900.4 239.8,900 241.3,899.7 242.8,900.8 244.3,900.6 245.8,900.6 247.3,900.6 248.8,900.5 250.3,899.9 251.8,899.3 253.3,900.4 254.8,899.8 256.3,900.2 257.8,900.3 259.3,899.7 260.8,900.1 262.3,900.8 263.8,900.5 265.3,899.6 266.8,900.1 268.3,900.2 269.8,900.4 271.3,900.4 272.8,900.1 274.3,900 275.8,900.5 277.3,899.6 278.8,900.5 280.3,900.2 281.8,899.9 283.3,899.9 284.8,900.2 286.3,899.5 287.8,899.2 289.3,900.2 290.8,900.6 292.3,900 293.8,900 295.3,900 296.8,899.6 298.3,900.1 299.8,900.3 301.3,900 302.8,900.3 304.3,899.5 305.8,900 307.3,899.6 308.8,899.7 310.3,900 311.8,899.9 313.3,900.2 314.8,900.1 316.3,899.4 317.8,900.3 319.3,899.2 320.8,899.7 322.3,899.9 323.8,899.7 325.3,899.9 326.8,899.7 328.3,899.3 329.8,900 331.3,899.6 332.8,899.2 334.3,899.6 335.8,899.5 337.3,899.7 338.8,899.2 340.3,899.6 341.8,899.4 343.3,899.1 344.8,898.1 346.3,898.9 347.8,898.2 349.3,898.7 350.8,899.3 352.3,897.9 353.8,898.1 355.3,897.5 356.8,897.5 358.3,897.6 359.8,897.9 361.3,898.3 362.8,898.2 364.3,897.3 365.8,897.6 367.3,896.5 368.8,897.7 370.3,897.1 371.8,896.4 373.3,896.5 374.8,897.2 376.3,896.7 377.8,896.9 379.3,895.9 380.8,896.2 382.3,895.6 383.8,894.3 385.3,895 386.8,894.6 388.3,893.7 389.8,894.3 391.3,894.9 392.8,893.4 394.3,890.9 395.8,888.2 397.3,887.1 398.8,883.5 400.4,869.2 401.4,852.6 402.4,819.4 403.2,753.1 404.4,560 404.7,548.2 404.9,537.4 405.4,531.3 406.6,527.8 408.5,527 410.4,529.7 412.4,536.7 413.9,540.5 415.2,535.9 416.6,527.4 417.8,524.7 419.1,529.7 420.5,538.2 421.6,540.9 422.8,534.3 423.7,527.4 424.7,525.8 425.7,532.8 426.5,539.7 427,541.7 427.7,535.9 428.4,525.8 429,522.6 429.7,527.4 430.9,534.3 432.1,536.3 433.2,531.3 434,527.9 435,536 436.1,527.4 437.1,536.3 438.2,525.6 439.2,536.7 440.3,526.9 441.3,536.9 442.3,526.9 443.4,536.3 444.4,525.8 445.5,537.3 446.5,526.7 447.5,535.6 448.6,527 449.6,535 450.7,528.6 451.7,535.1 452.8,529 453.8,533.5 454.8,530 455.9,533.9 456.9,530.8 458,533.7 459,530 460.1,532.4 461.1,530.4 462.1,535.1 463.2,527.3 464.2,536.7 465.3,525.7 466,530.5 466.8,523.4 467.7,530.5 468.7,539 469.5,541.7 470.3,532.8 471.1,521.6 472.1,530.5 473,538.2 473.8,539.4 474.7,532.8 475.7,525.1 476.5,523.5 477.2,530.5 478.1,538.2 478.8,540.5 479.6,535.9 480.7,528.2 481.5,523.5 482.3,522.4 483.2,526.6 484.6,534.3 485.7,539 486.5,540.1 487.7,538.2 489.2,533.6 490.8,532 492.5,532.6 493.8,534.7 494.8,538.2 495.4,545.2 495.8,560 496.2,753.1 497,819.4 498,852.6 499.2,869.2 500.5,879.5 502,882.7 503.5,887.5 505,887.9 506.5,890.4 508,891.7 509.5,892.2 511,894.2 512.5,892.8 514,894.5 515.5,895.2 517,895.8 518.5,895.8 520,895.5 521.5,896 523,896.7 524.5,896.9 526,896.4 527.5,896.7 529,898.2 530.5,896.7 532,897.3 533.5,897.9 535,897.1 536.5,896.7 538,898.8 539.5,898 541,897 542.5,897.9 544,898.9 545.5,897.2 547,897.5 548.5,897.5 550,898.8 551.5,898.3 553,897.8 554.5,897.8 556,897.6 557.5,899.3 559,899.4 560.5,899.5 562,899.3 563.5,899 565,899.1 566.5,900 568,899.9 569.5,900.3 571,899 572.5,899.8 574,899.6 575.5,899.1 577,899.2 578.5,899.5 580,899.5 581.5,900.7 583,900 584.5,900.2 586,899.4 587.5,899.4 589,900.4 590.5,900.1 592,899.3 593.5,899.6 595,899.7 596.5,899.8 598,900.3 599.5,899.7 601,900.3 602.5,900.4 604,900.4 605.5,899.8 607,900.2 608.5,900 610,900.4 611.5,899.4 613,900.3 614.5,900.2 616,900.2 617.5,900 619,900.3 620.5,900.1 622,899.9 623.5,900.5 625,900.2 626.5,900 628,899.4 629.5,899.8 631,900 632.5,900.5 634,899.7 635.5,899.7 637,900.2 638.5,901.3 640,899.7 641.5,900.3 643,900.1 644.5,900 646,900.5 647.5,900.4 649,900.7 650.5,900.9 652,900.4 653.5,899.8 655,899.9 656.5,899.5 658,900.6 659.5,899.5 661,899.8 662.5,900.7 664,899.9 665.5,900.6 667,900.2 668.5,899.8 670,900.7 671.5,899.9 673,900.2 674.5,900.1 676,899.9 677.5,900.7 679,900.7 680.5,899.3 682,900.2 683.5,899.4 685,900.1 686.5,900.2 688,900.5 689.5,899.7 691,900.2 692.5,900.5 694,899.8 695.5,900.5 697,900.5 698.5,900.6 700,900.3 701.5,900.6 703,900.2 704.5,900.1 706,899.8 707.5,900.6 709,900.7 710.5,900.5 712,900.4 713.5,900.1 715,900.2 716.5,900.7 718,900.2 719.5,899.7 721,899.6 722.5,901.3 724,901.1 724.9,900.5" fill="none" stroke="#ff0000" stroke-width="4.6" stroke-linejoin="round" stroke-linecap="round" clip-path="url(#cpc)"/>
<path d="M175.3,900.7 176.8,900.4 178.3,899.9 179.8,899.7 181.3,899.9 182.8,900.9 184.3,900.2 185.8,900.1 187.3,900.4 188.8,900.5 190.3,900.2 191.8,900.5 193.3,900 194.8,900.7 196.3,900.1 197.8,900.6 199.3,900.5 200.8,900.4 202.3,900.2 203.8,899.8 205.3,900.3 206.8,900.4 208.3,900.3 209.8,900.6 211.3,900.1 212.8,900.6 214.3,900.2 215.8,900.7 217.3,900.4 218.8,899.8 220.3,900.3 221.8,899.9 223.3,900.3 224.8,900.8 226.3,900.2 227.8,900.8 229.3,899.9 230.8,900.4 232.3,899.9 233.8,900.3 235.3,900.1 236.8,900.6 238.3,900.2 239.8,900 241.3,900 242.8,900.1 244.3,900 245.8,900.3 247.3,897.5 248.8,898 250.3,900.3 251.8,900.4 253.3,900.3 254.8,900.1 256.3,900.4 257.8,899.8 259.3,900.3 260.8,900.6 262.3,900.2 263.8,900.8 265.3,900.2 266.8,900.3 268.3,900.6 269.8,900.3 271.3,900.2 272.8,900.4 274.3,900.6 275.8,900.1 277.3,900.1 278.8,899.8 280.3,900.1 281.8,900.1 283.3,900.2 284.8,899.9 286.3,900.3 287.8,899.9 289.3,900.1 290.8,900.1 292.3,900.2 293.8,900.1 295.3,899.8 296.8,900.1 298.3,900.5 299.8,900 301.3,900.7 302.8,900 304.3,899.9 305.8,900.1 307.3,900.3 308.8,900.4 310.3,900.4 311.8,899.9 313.3,899.7 314.8,900.3 316.3,899.8 317.8,899.7 319.3,899.9 320.8,899.7 322.3,900 323.8,899.9 325.3,899.4 326.8,899.9 328.3,899.9 329.8,901.5 331.3,900.1 332.8,899.5 334.3,899.3 335.8,899.7 337.3,899.5 338.8,899.8 340.3,899.5 341.8,899.2 343.3,899.9 344.8,900.2 346.3,899.2 347.8,898.9 349.3,899.6 350.8,899 352.3,899.4 353.8,899.1 355.3,899.3 356.8,899.2 358.3,899 359.8,899.6 361.3,899.6 362.8,898.7 364.3,899.7 365.8,898.5 367.3,899.5 368.8,898.7 370.3,898.3 371.8,898.3 373.3,898.6 374.8,899.2 376.3,898 377.8,897.9 379.3,897.9 380.8,898.1 382.3,897.3 383.8,896.5 385.3,897.2 386.8,897.4 388.3,895.7 389.8,895.4 391.3,893.1 392.8,894.9 394.3,893.4 395.8,892.1 397.3,888.7 399,882.1 400.2,880.3 401.2,872.9 402.2,856.3 402.9,838.6 403.6,838.6 404.9,900.5 495,900.5 496.6,838.6 497.3,838.6 498,856.3 499,872.9 500.2,880.3 501.4,882.1 502.5,887.9 504,891.5 505.5,892.2 507,893.8 508.5,894.3 510,894.4 511.5,896.7 513,896 514.5,896.2 516,896.6 517.5,897 519,896.6 520.5,897.5 522,898.3 523.5,898.1 525,898.3 526.5,897.3 528,898.1 529.5,898.3 531,898.4 532.5,899.2 534,898.4 535.5,898.7 537,900.2 538.5,900.1 540,899.1 541.5,899.7 543,899.5 544.5,899.8 546,899.7 547.5,899.6 549,899.2 550.5,899.7 552,899.3 553.5,899.6 555,899 556.5,899.6 558,899 559.5,899 561,900.1 562.5,899.6 564,899.2 565.5,899.9 567,900.1 568.5,899.5 570,899.6 571.5,899.4 573,899.5 574.5,900.9 576,900.2 577.5,900.1 579,899.4 580.5,900 582,900 583.5,900.1 585,900.3 586.5,899.8 588,899.8 589.5,899.4 591,900 592.5,899.6 594,900.4 595.5,899.9 597,899.9 598.5,900.1 600,900.3 601.5,900.5 603,900.3 604.5,899.9 606,899.7 607.5,900 609,899.9 610.5,900 612,900.4 613.5,899.9 615,900 616.5,899.7 618,899.7 619.5,900.3 621,900.3 622.5,900.5 624,899.9 625.5,899.8 627,900.1 628.5,900.4 630,900.3 631.5,900.3 633,900.3 634.5,900.5 636,899.8 637.5,900 639,899.8 640.5,900.4 642,900.5 643.5,900.3 645,900.5 646.5,900.5 648,899.9 649.5,900.1 651,898.8 652.5,898.2 654,900.2 655.5,900.4 657,900.4 658.5,900.6 660,900.1 661.5,900.2 663,900.3 664.5,900.2 666,900.5 667.5,900.5 669,900.1 670.5,900.6 672,900.1 673.5,899.9 675,900.4 676.5,900 678,900.2 679.5,900 681,900.4 682.5,900.4 684,900.4 685.5,900.6 687,900.3 688.5,900.7 690,900 691.5,899.8 693,900.7 694.5,900.9 696,900.9 697.5,900.3 699,900.6 700.5,900.3 702,900.4 703.5,900 705,899.8 706.5,900.1 708,900.6 709.5,900.3 711,900.5 712.5,901 714,899.8 715.5,900 717,900.4 718.5,900.9 720,900.4 721.5,900.5 723,900.2 724.5,901 724.9,900.5" fill="none" stroke="#0000ff" stroke-width="4.6" stroke-linejoin="round" stroke-linecap="round" clip-path="url(#cpc)"/>
<path d="M843.1,900 844.6,900.2 846.1,899.7 847.6,900.1 849.1,899.9 850.6,899.9 852.1,900.3 853.6,900 855.1,899.9 856.6,900.1 858.1,900.1 859.6,899.9 861.1,900 862.6,899.7 864.1,899.8 865.6,899.8 867.1,899.6 868.6,899.6 870.1,899.6 871.6,899.8 873.1,899.9 874.6,899.8 876.1,899.9 877.6,899.6 879.1,899.9 880.6,899.9 882.1,900 883.6,899.7 885.1,899.8 886.6,899.5 888.1,899.8 889.6,899.4 891.1,899.6 892.6,900.1 894.1,899.4 895.6,900 897.1,899.9 898.6,899.8 900.1,899.9 901.6,899.9 903.1,900 904.6,899.8 906.1,899.7 907.6,899.7 909.1,899.6 910.6,899.8 912.1,899.6 913.6,900 915.1,899.4 916.6,899.5 918.1,899.5 919.6,899.3 921.1,900.1 922.6,899.2 924.1,899.6 925.6,899.6 927.1,900 928.6,899.3 930.1,899.9 931.6,899.5 933.1,899.6 934.6,899.5 936.1,899.7 937.6,899.4 939.1,899.6 940.6,899.6 942.1,899.9 943.6,899.1 945.1,899.8 946.6,899.7 948.1,899.4 949.6,899.6 951.1,899.4 952.6,899.8 954.1,899.5 955.6,899.4 957.1,899.4 958.6,899.3 960.1,899.3 961.6,899.2 963.1,899.7 964.6,898.9 966.1,898.6 967.6,899.2 969.1,899.2 970.6,899.3 972.1,899.1 973.6,899.1 975.1,899.2 976.6,899.3 978.1,899 979.6,899 981.1,899.4 982.6,899.1 984.1,898.7 985.6,899.4 987.1,899 988.6,898.7 990.1,898.5 991.6,898.8 993.1,898.5 994.6,898.4 996.1,898.3 997.6,898.5 999.1,898.7 1000.6,898.4 1002.1,898.1 1003.6,898.5 1005.1,898.3 1006.6,898.4 1008.1,898.4 1009.6,898.1 1011.1,898 1012.6,898 1014.1,897.7 1015.6,898 1017.1,898.1 1018.6,897.7 1020.1,897.6 1021.6,897.5 1023.1,897.3 1024.6,897.2 1026.1,897.2 1027.6,897 1029.1,897 1030.6,896.7 1032.1,897 1033.6,896.8 1035.1,896.5 1036.6,896.1 1038.1,896.5 1039.6,896.6 1041.1,896.1 1042.6,896 1044.1,895.9 1045.6,896 1047.1,895.5 1048.6,895.8 1050.1,895.3 1051.6,895.4 1053.1,895.1 1054.6,894.9 1056.1,894.5 1057.6,894.4 1059.1,894.3 1060.6,894.3 1062.1,894.1 1063.6,893.7 1065.1,893.7 1066.6,893.6 1068.1,893.1 1069.6,892.8 1071.6,889.5 1073,531.9 1163.1,531.9 1164.8,889.5 1166,892.7 1167.5,893.2 1169,893.4 1170.5,893.3 1172,893.8 1173.5,893.8 1175,894 1176.5,894.5 1178,894.6 1179.5,894.5 1181,894.9 1182.5,895.1 1184,895 1185.5,895.3 1187,895.6 1188.5,895.3 1190,895.8 1191.5,896.1 1193,896.1 1194.5,895.9 1196,896.4 1197.5,896.2 1199,896.6 1200.5,896.8 1202,896.8 1203.5,896.7 1205,896.8 1206.5,897.2 1208,897 1209.5,897.3 1211,897.4 1212.5,897.4 1214,898 1215.5,897.6 1217,898.1 1218.5,897.3 1220,897.4 1221.5,898.1 1223,898.1 1224.5,898 1226,898.1 1227.5,897.8 1229,898.1 1230.5,898.1 1232,898.3 1233.5,898.6 1235,898.4 1236.5,898.6 1238,898.4 1239.5,898.5 1241,898.6 1242.5,898.6 1244,899 1245.5,898.6 1247,899.2 1248.5,898.6 1250,899.1 1251.5,898.8 1253,899.3 1254.5,899 1256,899.1 1257.5,899.2 1259,898.9 1260.5,898.9 1262,898.7 1263.5,899.4 1265,899 1266.5,899.1 1268,899.2 1269.5,899.7 1271,898.9 1272.5,899.4 1274,899.2 1275.5,899.5 1277,899 1278.5,899.3 1280,899.6 1281.5,899.7 1283,899.8 1284.5,899.3 1286,899.5 1287.5,899.5 1289,899.2 1290.5,899.2 1292,899.7 1293.5,899.6 1295,899.5 1296.5,899.8 1298,899.4 1299.5,899.7 1301,899.6 1302.5,899.6 1304,899.7 1305.5,899.7 1307,899.7 1308.5,899.7 1310,900.1 1311.5,899.6 1313,899.9 1314.5,899.8 1316,899.7 1317.5,899.9 1319,899.6 1320.5,900 1322,899.6 1323.5,899.7 1325,899.8 1326.5,899.9 1328,900 1329.5,900 1331,899.8 1332.5,899.6 1334,899.9 1335.5,899.9 1337,899.6 1338.5,900 1340,899.9 1341.5,899.6 1343,899.9 1344.5,899.6 1346,899.7 1347.5,899.9 1349,899.5 1350.5,899.9 1352,899.6 1353.5,900 1355,899.7 1356.5,899.9 1358,899.6 1359.5,899.8 1361,900.1 1362.5,900 1364,899.5 1365.5,900.1 1367,900.1 1368.5,899.8 1370,900.2 1371.5,899.7 1373,899.9 1374.5,900.1 1376,900.2 1377.5,900.2 1379,899.7 1380.5,899.6 1382,900 1383.5,899.6 1385,899.9 1386.5,899.7 1388,900.1 1389.5,900.1 1391,900 1392.5,899.9 1392.8,899.8" fill="none" stroke="#ff0000" stroke-width="4.6" stroke-linejoin="round" stroke-linecap="round" clip-path="url(#cpd)"/>
<path d="M843.1,899.5 844.6,899.4 846.1,899.6 847.6,899.6 849.1,899.6 850.6,899.3 852.1,900.1 853.6,899.6 855.1,899.9 856.6,899.9 858.1,899.1 859.6,898.8 861.1,899.9 862.6,899.3 864.1,899.4 865.6,899.3 867.1,899.4 868.6,899 870.1,899.3 871.6,899.2 873.1,899.3 874.6,898.5 876.1,899.6 877.6,899.4 879.1,898.7 880.6,899 882.1,899.3 883.6,899.5 885.1,899.3 886.6,899.7 888.1,899.2 889.6,898.9 891.1,899 892.6,899.5 894.1,899 895.6,899.5 897.1,899.5 898.6,899.3 900.1,899.5 901.6,899.1 903.1,899.1 904.6,898.9 906.1,898.8 907.6,898.5 909.1,898.8 910.6,898.6 912.1,898.5 913.6,899 915.1,899.1 916.6,898.8 918.1,899.4 919.6,899.2 921.1,899.2 922.6,898.6 924.1,898.3 925.6,899 927.1,898.9 928.6,899 930.1,898.9 931.6,899.1 933.1,898.6 934.6,898.9 936.1,898.3 937.6,897.8 939.1,898.4 940.6,899.1 942.1,897.9 943.6,898.8 945.1,898.2 946.6,898.3 948.1,898.4 949.6,898.4 951.1,898 952.6,898.3 954.1,898.4 955.6,898.5 957.1,897.9 958.6,898.6 960.1,898.7 961.6,898.9 963.1,897.5 964.6,898 966.1,897.2 967.6,898 969.1,898 970.6,897.3 972.1,897.1 973.6,897.7 975.1,897.8 976.6,897.2 978.1,897.4 979.6,896.5 981.1,897.1 982.6,897.3 984.1,897.2 985.6,897.7 987.1,896.7 988.6,896.2 990.1,897.1 991.6,896.6 993.1,896.9 994.6,896.9 996.1,896.8 997.6,897 999.1,896.9 1000.6,895.8 1002.1,896.3 1003.6,896.9 1005.1,895.9 1006.6,896.3 1008.1,895.9 1009.6,895.7 1011.1,896.2 1012.6,896 1014.1,895.4 1015.6,895.7 1017.1,894.8 1018.6,894.9 1020.1,895.3 1021.6,894.9 1023.1,894.4 1024.6,894.8 1026.1,894.6 1027.6,894.8 1029.1,894.6 1030.6,894 1032.1,893.8 1033.6,893.7 1035.1,893.5 1036.6,894 1038.1,893.8 1039.6,893.6 1041.1,893.1 1042.6,892.7 1044.1,892.9 1045.6,892.2 1047.1,892.2 1048.6,891.3 1050.1,891.4 1051.6,891.7 1053.1,890.5 1054.6,889.9 1056.1,889.9 1057.6,889.8 1059.1,889 1060.6,887.3 1062.1,885.8 1063.6,884.1 1065.1,881.4 1066.6,878.3 1068.1,873.6 1069.6,866.9 1071.4,857 1071.9,857 1073.4,900.5 1163,900.5 1164.5,857 1165,857 1165.6,860.5 1167.1,868.7 1168.6,874.5 1170.1,878.7 1171.6,882.6 1173.1,885.2 1174.6,886.2 1176.1,887.5 1177.6,888.8 1179.1,889.3 1180.6,889.8 1182.1,891 1183.6,890.6 1185.1,891 1186.6,891.4 1188.1,891.6 1189.6,892.1 1191.1,892.6 1192.6,893.1 1194.1,893 1195.6,893 1197.1,892.7 1198.6,893.3 1200.1,893.2 1201.6,893.6 1203.1,894.2 1204.6,894 1206.1,894 1207.6,894 1209.1,894.4 1210.6,894.6 1212.1,894.3 1213.6,894.6 1215.1,895.2 1216.6,894.5 1218.1,895 1219.6,894.9 1221.1,895.9 1222.6,895.7 1224.1,895.8 1225.6,895.9 1227.1,895.9 1228.6,896 1230.1,895.5 1231.6,896.2 1233.1,896.4 1234.6,895.8 1236.1,896.7 1237.6,896.7 1239.1,896 1240.6,896.5 1242.1,896.6 1243.6,896.6 1245.1,897 1246.6,896.5 1248.1,896.9 1249.6,897.2 1251.1,897.4 1252.6,897.2 1254.1,897.2 1255.6,897.6 1257.1,896.7 1258.6,897.8 1260.1,897.4 1261.6,897.1 1263.1,897.5 1264.6,897 1266.1,897 1267.6,897.7 1269.1,897.6 1270.6,898.1 1272.1,897.6 1273.6,897.5 1275.1,897.7 1276.6,898.7 1278.1,898.1 1279.6,897.9 1281.1,897.8 1282.6,897.8 1284.1,898.2 1285.6,898.4 1287.1,898.7 1288.6,898.8 1290.1,898.5 1291.6,898.2 1293.1,898.2 1294.6,897.7 1296.1,898.2 1297.6,898.7 1299.1,898.5 1300.6,898.8 1302.1,898.2 1303.6,899 1305.1,898.8 1306.6,898.7 1308.1,898.9 1309.6,898 1311.1,898.6 1312.6,898.5 1314.1,899.5 1315.6,898.8 1317.1,898.7 1318.6,899.2 1320.1,898.6 1321.6,899.5 1323.1,898.7 1324.6,899 1326.1,898.7 1327.6,899.3 1329.1,898.3 1330.6,899.3 1332.1,898.8 1333.6,899.1 1335.1,898.7 1336.6,899.2 1338.1,899.2 1339.6,899.4 1341.1,899.3 1342.6,899.4 1344.1,899.6 1345.6,899.1 1347.1,898.8 1348.6,898.8 1350.1,899.5 1351.6,899.1 1353.1,899.6 1354.6,899.3 1356.1,898.9 1357.6,899.6 1359.1,900 1360.6,899.3 1362.1,899 1363.6,899.1 1365.1,899.7 1366.6,899.2 1368.1,899.2 1369.6,899.6 1371.1,899.4 1372.6,899.4 1374.1,899.2 1375.6,899.2 1377.1,899.5 1378.6,899.5 1380.1,899.7 1381.6,899.3 1383.1,899.6 1384.6,899.6 1386.1,899.5 1387.6,899.7 1389.1,899.8 1390.6,899.6 1392.1,899.5 1392.8,899.1" fill="none" stroke="#0000ff" stroke-width="4.6" stroke-linejoin="round" stroke-linecap="round" clip-path="url(#cpd)"/>
<path d="M522,69.2L607,69.2" stroke="#ff0000" stroke-width="4.6" stroke-linecap="round"/>
<path d="M522,124.5L607,124.5" stroke="#0000ff" stroke-width="4.6" stroke-linecap="round"/>
<text x="616.5" y="81.9" font-size="38">R<tspan dy="9.9" font-size="26">H</tspan></text>
<text x="616.5" y="136.9" font-size="38">R<tspan dy="9.9" font-size="26">xx</tspan></text>
<text x="203.2" y="84.6" font-size="58">(a)</text>
<path d="M1190,60.1L1275,60.1" stroke="#ff0000" stroke-width="4.6" stroke-linecap="round"/>
<path d="M1190,115.4L1275,115.4" stroke="#0000ff" stroke-width="4.6" stroke-linecap="round"/>
<text x="1284.5" y="72.8" font-size="38">R<tspan dy="9.9" font-size="26">H</tspan></text>
<text x="1284.5" y="127.8" font-size="38">R<tspan dy="9.9" font-size="26">xx</tspan></text>
<text x="871.2" y="84.6" font-size="58">(b)</text>
<path d="M522,560.5L607,560.5" stroke="#ff0000" stroke-width="4.6" stroke-linecap="round"/>
<path d="M522,615.8L607,615.8" stroke="#0000ff" stroke-width="4.6" stroke-linecap="round"/>
<text x="616.5" y="573.2" font-size="38">R<tspan dy="9.9" font-size="26">H</tspan></text>
<text x="616.5" y="628.2" font-size="38">R<tspan dy="9.9" font-size="26">xx</tspan></text>
<text x="203.2" y="567.6" font-size="58">(c)</text>
<path d="M1190,560.5L1275,560.5" stroke="#ff0000" stroke-width="4.6" stroke-linecap="round"/>
<path d="M1190,615.8L1275,615.8" stroke="#0000ff" stroke-width="4.6" stroke-linecap="round"/>
<text x="1284.5" y="573.2" font-size="38">R<tspan dy="9.9" font-size="26">H</tspan></text>
<text x="1284.5" y="628.2" font-size="38">R<tspan dy="9.9" font-size="26">xx</tspan></text>
<text x="871.2" y="567.6" font-size="58">(d)</text>
<text x="175.3" y="1010.7" text-anchor="middle" font-size="58">-3</text>
<text x="450.1" y="1010.7" text-anchor="middle" font-size="58">0</text>
<text x="724.9" y="1010.7" text-anchor="middle" font-size="58">3</text>
<text x="435.2" y="1067.6" font-size="54">E<tspan dy="14.4" dx="-1" font-size="36.5">f</tspan></text>
<text x="843.1" y="1010.7" text-anchor="middle" font-size="58">-3</text>
<text x="1118" y="1010.7" text-anchor="middle" font-size="58">0</text>
<text x="1392.8" y="1010.7" text-anchor="middle" font-size="58">3</text>
<text x="1103" y="1067.6" font-size="54">E<tspan dy="14.4" dx="-1" font-size="36.5">f</tspan></text>
<text transform="translate(59 387.8) rotate(-90)" font-size="54">R<tspan dy="14" font-size="37">H</tspan><tspan dy="-14">,</tspan><tspan dx="9">R</tspan><tspan dy="14" font-size="37">xx</tspan><tspan dy="-14" dx="25" letter-spacing="-0.3">(h/e</tspan><tspan dy="-19" font-size="37">2</tspan><tspan dy="19">)</tspan></text>
<text transform="translate(59 880.2) rotate(-90)" font-size="54">R<tspan dy="14" font-size="37">H</tspan><tspan dy="-14">,</tspan><tspan dx="9">R</tspan><tspan dy="14" font-size="37">xx</tspan><tspan dy="-14" dx="25" letter-spacing="-0.3">(h/e</tspan><tspan dy="-19" font-size="37">2</tspan><tspan dy="19">)</tspan></text>
</svg>
</body>
</html>
